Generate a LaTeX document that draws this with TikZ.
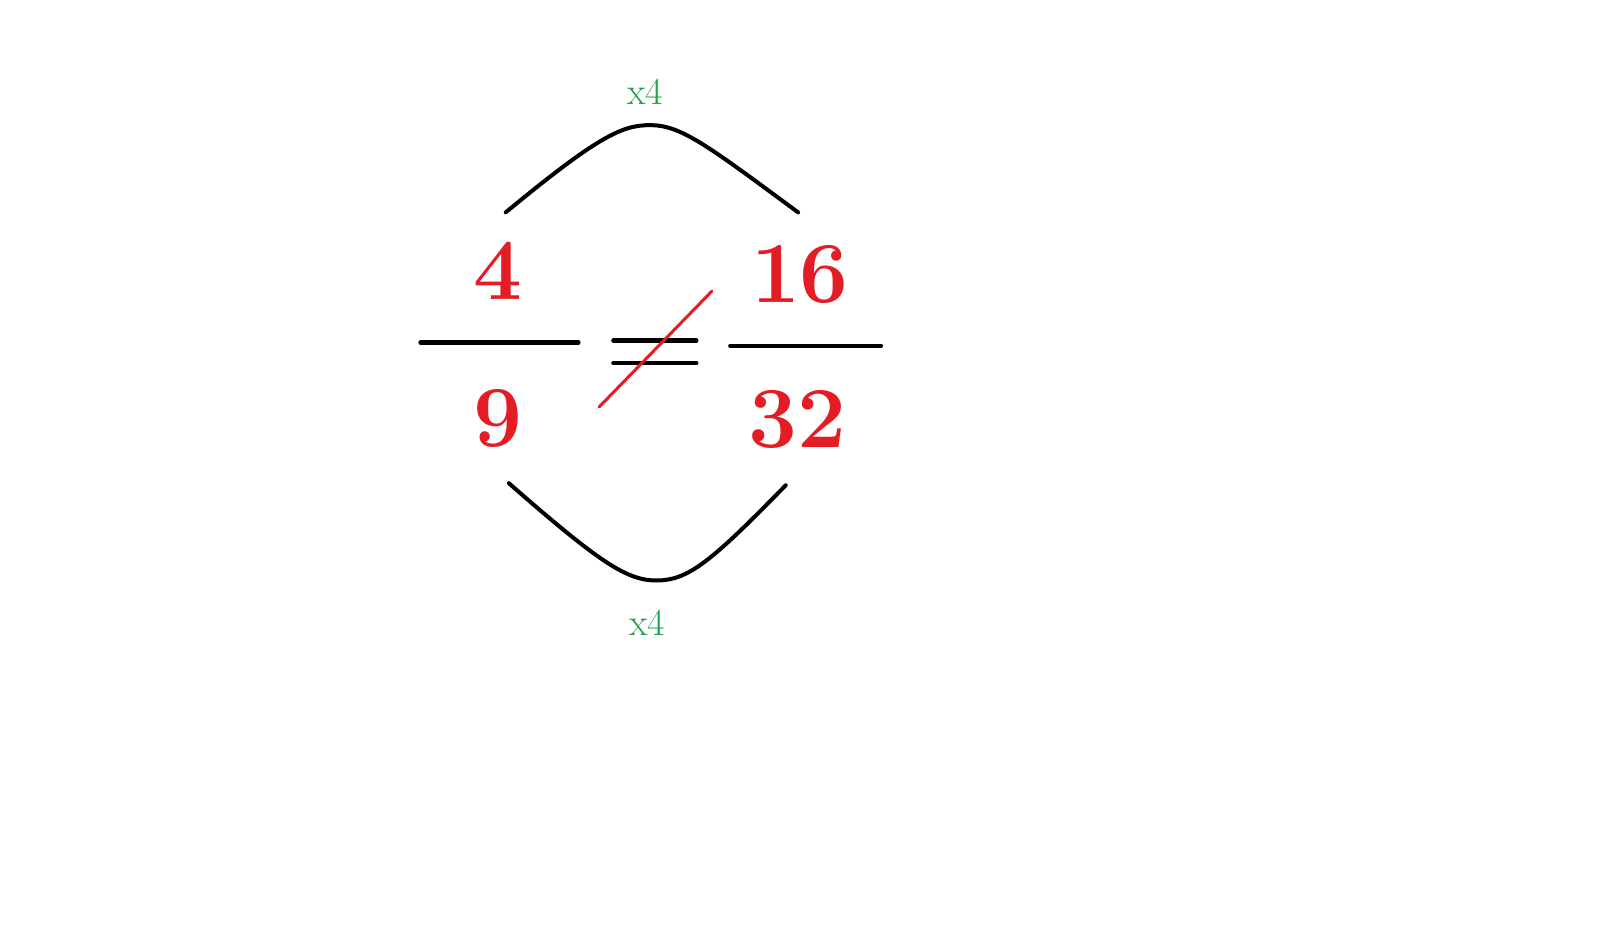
\documentclass[tikz,border=0pt]{standalone}
\usepackage{fontspec}
\definecolor{numred}{RGB}{228,28,36}
\definecolor{labgreen}{RGB}{34,160,72}
\begin{document}
\begin{tikzpicture}[x=1pt,y=-1pt,
  num/.style={text=numred,font=\fontsize{87}{87}\selectfont\bfseries,inner sep=0pt,anchor=base},
  lab/.style={text=labgreen,font=\fontsize{38}{38}\selectfont,inner sep=0pt,anchor=base},
  bar/.style={line width=4.2pt,line cap=round},
  arc/.style={line width=4pt,line cap=round},
  slash/.style={numred,line width=3pt,line cap=round}]
\useasboundingbox[fill=white] (0,0) rectangle (1600,929);
\begin{scope}[scale=1.0256]
% numbers
\node[num] (n4) at (486,292) {4};
\node[num] (n9) at (486,435) {9};
\node[num] (n16) at (780,295) {16};
\node[num] (n32) at (778,436) {32};
% fraction bars
\draw[bar] (410,334) -- (564,334);
\draw[bar] (712,337) -- (859,337);
% equals sign
\draw[bar] (598,332) -- (679,332);
\draw[bar] (598,354) -- (679,354);
% slash
\draw[slash] (584,397) -- (694,284);
% arcs
\coordinate (t1) at (493,207);
\coordinate (t2) at (778,207);
\coordinate (b1) at (496,471);
\coordinate (b2) at (766,473);
\draw[arc] (t1) .. controls (584,132) and (607,122) .. (634,122) .. controls (664,122) and (690,142) .. (t2);
\draw[arc] (b1) .. controls (584,548) and (611,566) .. (640,566) .. controls (671,566) and (693,548) .. (b2);
% labels
\node[lab] (l1) at (629,102) {x4};
\node[lab] (l2) at (631,620) {x4};
\end{scope}
\end{tikzpicture}
\end{document}
